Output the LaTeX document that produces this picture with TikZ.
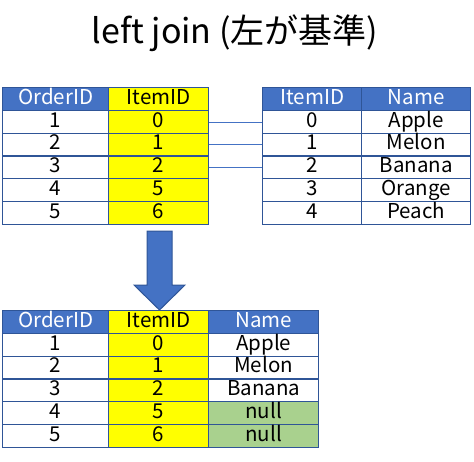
\documentclass[tikz,border=0pt]{standalone}
\usepackage{fontspec}
\setmainfont{Noto Sans CJK JP}
\definecolor{hdr}{HTML}{4472C4}
\definecolor{bd}{HTML}{2F5597}
\definecolor{yel}{HTML}{FFFF00}
\definecolor{grn}{HTML}{A9D18E}
\tikzset{
  cell/.style={draw=bd, line width=1.3pt, anchor=north west, inner sep=0pt,
    minimum height=22.7pt, font=\fontsize{20.5}{20.5}\selectfont,
    text height=14.5pt, text depth=4pt},
  wc/.style={cell, fill=white},
  yc/.style={cell, fill=yel},
  hc/.style={cell, fill=hdr, text=white, minimum height=23pt},
  yh/.style={cell, fill=yel, minimum height=23pt},
  gc/.style={cell, fill=grn},
  link/.style={draw=hdr, line width=0.8pt},
  blockarrow/.style={fill=hdr, draw=bd, line width=1pt},
}
\begin{document}
\begin{tikzpicture}[x=1pt, y=-1pt]
\useasboundingbox (0,0) rectangle (474,461);
\node[font=\fontsize{34}{34}\selectfont] (title) at (235,33) {left join (左が基準)};

% left table
\node[hc, minimum width=106pt] (L-0-1) at (2,87) {OrderID};
\node[yh, minimum width=100pt] (L-0-2) at (108,87) {ItemID};
\foreach \r/\o/\i in {1/1/0,2/2/1,3/3/2,4/4/5,5/5/6} {
  \node[wc, minimum width=106pt] (L-\r-1) at (2,{110+(\r-1)*22.7}) {\o};
  \node[yc, minimum width=100pt] (L-\r-2) at (108,{110+(\r-1)*22.7}) {\i};
}

% right table
\node[hc, minimum width=99pt] (R-0-1) at (262,87) {ItemID};
\node[hc, minimum width=109pt] (R-0-2) at (361,87) {Name};
\foreach \r/\i/\n in {1/0/Apple,2/1/Melon,3/2/Banana,4/3/Orange,5/4/Peach} {
  \node[wc, minimum width=99pt] (R-\r-1) at (262,{110+(\r-1)*22.7}) {\i};
  \node[wc, minimum width=109pt] (R-\r-2) at (361,{110+(\r-1)*22.7}) {\n};
}

% links
\foreach \r in {1,2,3} {
  \draw[link] (L-\r-2.east) -- (R-\r-1.west);
}

% block arrow
\coordinate (a1) at (147,231);
\coordinate (a2) at (172,231);
\coordinate (a3) at (172,285);
\coordinate (a4) at (185,285);
\coordinate (tip) at (159.5,310);
\coordinate (a6) at (134,285);
\coordinate (a7) at (147,285);
\draw[blockarrow] (a1) -- (a2) -- (a3) -- (a4) -- (tip) -- (a6) -- (a7) -- cycle;

% bottom table
\node[hc, minimum width=106pt] (B-0-1) at (2,310) {OrderID};
\node[yh, minimum width=100pt] (B-0-2) at (108,310) {ItemID};
\node[hc, minimum width=110pt] (B-0-3) at (208,310) {Name};
\foreach \r/\o/\i/\n/\s in {1/1/0/Apple/wc,2/2/1/Melon/wc,3/3/2/Banana/wc,4/4/5/null/gc,5/5/6/null/gc} {
  \node[wc, minimum width=106pt] (B-\r-1) at (2,{333+(\r-1)*22.7}) {\o};
  \node[yc, minimum width=100pt] (B-\r-2) at (108,{333+(\r-1)*22.7}) {\i};
  \node[\s, minimum width=110pt] (B-\r-3) at (208,{333+(\r-1)*22.7}) {\n};
}
\end{tikzpicture}
\end{document}
